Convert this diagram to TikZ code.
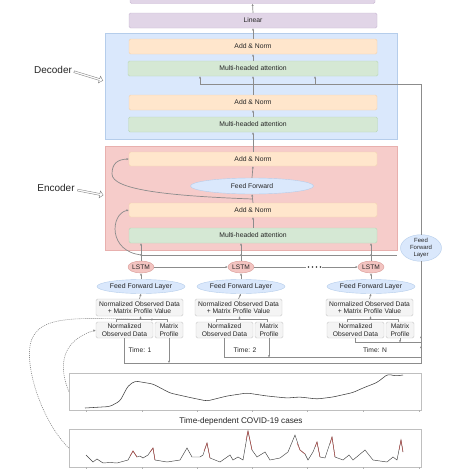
\documentclass[tikz,border=0pt]{standalone}
\usepackage{fontspec}
\setmainfont{Liberation Sans}
\usetikzlibrary{shapes.geometric,shapes.arrows,arrows.meta}
\definecolor{purfill}{HTML}{E1D5E7}
\definecolor{purdraw}{HTML}{C9B8D3}
\definecolor{orfill}{HTML}{FFE6CC}
\definecolor{ordraw}{HTML}{F2D2B0}
\definecolor{grfill}{HTML}{D5E8D4}
\definecolor{grdraw}{HTML}{B9D6B7}
\definecolor{blfill}{HTML}{DAE8FC}
\definecolor{bldraw}{HTML}{B5CDEB}
\definecolor{rdfill}{HTML}{F6CCCA}
\definecolor{rddraw}{HTML}{E8B0AE}
\definecolor{lsfill}{HTML}{F3C4C1}
\definecolor{lsdraw}{HTML}{D99A96}
\definecolor{gyfill}{HTML}{F4F4F4}
\definecolor{gydraw}{HTML}{C8C8C8}
\definecolor{linec}{HTML}{8C8C8C}
\definecolor{redc}{HTML}{C0504D}
\tikzset{
  txt/.style={font=\fontsize{6.8}{7.5}\selectfont, text=black!85},
  layer/.style={rectangle, rounded corners=1.5pt, minimum height=15pt, minimum width=248pt, inner sep=0pt, txt},
  purbox/.style={layer, fill=purfill, draw=purdraw},
  orbox/.style={layer, fill=orfill, draw=ordraw},
  grbox/.style={layer, fill=grfill, draw=grdraw},
  lstm/.style={ellipse, fill=lsfill, draw=lsdraw, minimum width=26pt, minimum height=12pt, inner sep=0pt, txt, font=\fontsize{6.6}{7}\selectfont},
  ffl/.style={ellipse, fill=blfill, draw=bldraw, minimum width=67pt, minimum height=14pt, inner sep=0pt, txt, font=\fontsize{6.9}{7.5}\selectfont},
  gybox/.style={rectangle, rounded corners=1.5pt, fill=gyfill, draw=gydraw, inner sep=0pt, align=center, txt, font=\fontsize{6.7}{7.4}\selectfont},
  conn/.style={draw=linec, line width=0.7pt, -{Latex[length=2.2pt,width=2.2pt]}},
  plain/.style={draw=linec, line width=0.7pt},
  dotl/.style={draw=linec, line width=0.6pt, dash pattern=on 1pt off 1pt},
  hollow/.style={single arrow, draw=gray, fill=white, minimum height=30pt, minimum width=7pt, single arrow head extend=2.2pt, inner sep=0.6pt},
  chartbox/.style={draw=black!25, line width=0.4pt},
  lbl/.style={font=\fontsize{10}{12}\selectfont, text=black!85}
}
\begin{document}
\begin{tikzpicture}[x=1pt,y=-1pt]
\useasboundingbox (0,0) rectangle (474,474);
\fill[white] (0,0) rectangle (474,474);
% top box (cut)
\begin{scope}
\clip (0,0) rectangle (474,474);
\node[purbox, minimum width=245pt] (top) at (252.5,-4) {};
\end{scope}
\node[purbox] (lin) at (253,20.5) {Linear};
% decoder background
\node[rectangle, fill=blfill, draw=bldraw, minimum width=292pt, minimum height=106pt, inner sep=0pt] (dec) at (251,86) {};
\node[orbox] (dan2) at (253,46.5) {Add \& Norm};
\node[grbox, minimum width=250pt] (dmh2) at (253,68.5) {Multi-headed attention};
\node[orbox] (dan1) at (253,102.5) {Add \& Norm};
\node[grbox, minimum width=249pt] (dmh1) at (253,124.5) {Multi-headed attention};
% encoder background
\node[rectangle, fill=rdfill, draw=rddraw, minimum width=292pt, minimum height=104pt, inner sep=0pt] (enc) at (251,198) {};
\node[orbox, minimum height=14pt] (ean2) at (253,159) {Add \& Norm};
\node[ellipse, fill=blfill, draw=bldraw, minimum width=123pt, minimum height=16pt, inner sep=0pt, txt] (eff) at (252,186) {Feed Forward};
\node[orbox, minimum height=14pt] (ean1) at (253,210) {Add \& Norm};
\node[grbox] (emh) at (253,235.5) {Multi-headed attention};
% labels
\node[lbl] (declbl) at (53,70) {Decoder};
\node[hollow, rotate=-17] (decarr) at (88,76) {};
\node[lbl] (enclbl) at (56,188) {Encoder};
\node[hollow, rotate=-11, minimum height=26pt] (encarr) at (90,192.5) {};
% vertical arrows in stack
\draw[conn] (lin.north) -- (top.south);
\draw[conn] (dan2.north) -- (lin.south);
\draw[conn] (dmh2.north) -- (dan2.south);
\draw[conn] (dan1.north) -- (dmh2.south);
\draw[conn] (dmh1.north) -- (dan1.south);
\draw[conn] (ean2.north) -- (dmh1.south);
\draw[conn] (eff.north) -- (ean2.south);
\draw[conn] (ean1.north) -- (eff.south);
\draw[conn] (emh.north) -- (ean1.south);
% encoder residuals
\coordinate (r1) at (252.5,199);
\draw[conn] (r1) .. controls (170,196) and (112,190) .. (112,174) .. controls (112,163) and (118,159.5) .. (ean2.west);
\coordinate (r2) at (142,255);
\draw[conn] (r2) .. controls (108,252) and (110,214) .. (ean1.west);
% LSTMs
\node[lstm] (l1) at (141,267) {LSTM};
\node[lstm] (l2) at (241,267) {LSTM};
\node[lstm] (l3) at (371,267) {LSTM};
\coordinate (dl) at (306,267);
\coordinate (dr) at (322,267);
\foreach \x in {308.5,312.5,316.5,320.5} \fill[black!80] (\x,267) circle (0.85pt);
\draw[conn] (l1.east) -- (l2.west);
\draw[plain] (l2.east) -- (dl);
\draw[conn] (dr) -- (l3.west);
\coordinate (b0) at (397,255);
\draw[plain] (r2) -- (b0);
\draw[conn] (l1.north) -- (emh.south -| l1.north);
\draw[conn] (l2.north) -- (emh.south -| l2.north);
\draw[conn] (l3.north) -- (emh.south -| l3.north);
\foreach \x in {141,241,371} \fill[linec] (\x,255) circle (0.8pt);
% feed forward layers
\node[ffl] (f1) at (141,286.5) {Feed Forward Layer};
\node[ffl] (f2) at (241,286.5) {Feed Forward Layer};
\node[ffl] (f3) at (371,286.5) {Feed Forward Layer};
\draw[conn] (f1.north) -- (l1.south);
\draw[conn] (f2.north) -- (l2.south);
\draw[conn] (f3.north) -- (l3.south);
% right feed forward
\node[ellipse, fill=blfill, draw=bldraw, minimum width=41pt, minimum height=25pt, inner sep=0pt, align=center, txt, font=\fontsize{6}{6.6}\selectfont] (fr) at (421,248) {Feed\\Forward\\Layer};
% decoder cross connections
\coordinate (c1) at (421,84);
\coordinate (c2) at (200,84);
\coordinate (c3) at (315,84);
\draw[plain] (fr.north) -- (c1) -- (c2);
\draw[conn] (c2) -- (dmh2.south -| c2);
\draw[conn] (c3) -- (dmh2.south -| c3);
% data boxes
\foreach \i/\cx/\nx/\mx in {1/139.5/124.5/169, 2/238.5/224.5/269, 3/369.5/355.5/400}{
  \node[gybox, minimum width=87pt, minimum height=17pt] (u\i) at (\cx,307.5) {Normalized Observed Data\\+ Matrix Profile Value};
  \node[gybox, minimum width=57pt, minimum height=16pt] (n\i) at (\nx,330) {Normalized\\Observed Data};
  \node[gybox, minimum width=28pt, minimum height=16pt] (m\i) at (\mx,330) {Matrix\\Profile};
  \coordinate (bl\i) at (\nx-8,319.3);
  \coordinate (br\i) at (\mx-2,319.3);
  \draw[plain] (n\i.north -| bl\i) -- (bl\i) -- (br\i) -- (m\i.north -| br\i);
  \draw[conn] (\cx+1,319.3) -- (u\i.south -| {(\cx+1,0)});
  \draw[conn] (u\i.north) -- (f\i.south);
}
\node[txt, font=\fontsize{6.7}{7}\selectfont] (t1) at (140,350) {Time: 1};
\node[txt, font=\fontsize{6.7}{7}\selectfont] (t2) at (245,350) {Time: 2};
\node[txt, font=\fontsize{6.7}{7}\selectfont] (t3) at (375,350) {Time: N};
% bottom collection lines
\coordinate (h1) at (421,363);
\coordinate (h2) at (421,357.5);
\coordinate (h3) at (421,342.5);
\draw[plain] (n1.south) -- (n1.south |- h1) -- (h1) -- (fr.south);
\draw[plain] (n2.south) -- (n2.south |- h2) -- (h2);
\draw[plain] (n3.south) -- (n3.south |- h3) -- (h3);
\draw[conn] (m1.south) -- (m1.south |- h1);
\draw[conn] (m2.south) -- (m2.south |- h2);
\draw[conn] (m3.south) -- (m3.south |- h3);
\draw[conn] (421,350) -- (421,346);
\draw[conn] (421,340) -- (421,336);
% charts
\node[chartbox, rectangle, minimum width=352pt, minimum height=37pt, inner sep=0pt] (ch1) at (245,391.5) {};
\node[chartbox, rectangle, minimum width=352pt, minimum height=38pt, inner sep=0pt] (ch2) at (245,448) {};
\foreach \x in {86,142,197,252,307,363,419}{
  \draw[black!30, line width=0.3pt] (\x,410) -- (\x,411.5);
  \draw[black!30, line width=0.3pt] (\x,467) -- (\x,468.5);
}
\node[txt, font=\fontsize{8.2}{9}\selectfont] (ttl) at (241,421.5) {Time-dependent COVID-19 cases};
\draw[black!75, line width=0.55pt, rounded corners=3pt] (85,408) -- (110,406.5) -- (120,401) -- (128,386) -- (135,381) -- (153,384) -- (170,393) -- (190,397.5) -- (207,401) -- (227,396) -- (247,393) -- (267,396) -- (287,398) -- (300,397) -- (317,399) -- (333,397) -- (353,392.5) -- (363,388) -- (377,382.5) -- (388,374) -- (395,376) -- (403,375);
\draw[black!75, line width=0.45pt] (86,455) -- (88,457) -- (93,462) -- (97,459) -- (103,463) -- (110,462.5) -- (117,463) -- (128,460) -- (133,451) -- (137,457) -- (140,456) -- (143,458) -- (148,455) -- (153,448) -- (155,460) -- (167,462) -- (180,460) -- (187,448) -- (192,457) -- (200,457) -- (203,455) -- (207,443) -- (210,458) -- (220,462) -- (230,455) -- (233,460) -- (238,457) -- (243,460) -- (248,431) -- (252,450) -- (257,457) -- (265,452) -- (270,460) -- (280,458) -- (288,452) -- (295,435) -- (300,450) -- (305,454) -- (308,460) -- (313,452) -- (317,442) -- (320,457) -- (325,458) -- (332,437) -- (335,457) -- (343,460) -- (349,455) -- (353,460) -- (365,450) -- (373,460) -- (387,462) -- (393,457) -- (397,460) -- (401,440) -- (403,452);
\draw[redc, line width=0.45pt] (130,456) -- (133,451) -- (137,457);
\draw[redc, line width=0.45pt] (150,452) -- (153,448) -- (155,460);
\draw[redc, line width=0.45pt] (204,451) -- (207,443) -- (210,458);
\draw[redc, line width=0.45pt] (246,440) -- (248,431) -- (252,450);
\draw[redc, line width=0.45pt] (297,443) -- (300,450) -- (305,454);
\draw[redc, line width=0.45pt] (315,447) -- (317,442) -- (320,457);
\draw[redc, line width=0.45pt] (330,444) -- (332,437) -- (335,457);
\draw[redc, line width=0.45pt] (399,450) -- (401,440) -- (403,452);
% dotted links
\draw[dotl, -{Latex[length=2.5pt,width=2.5pt]}] (ch2.west) .. controls (40,420) and (20,355) .. (34,335) .. controls (42,322) and (60,318) .. (100,318.5) -- (154,319.5);
\draw[dotl, -{Latex[length=2.5pt,width=2.5pt]}] (ch1.west) .. controls (60,370) and (58,342) .. (n1.west);
\end{tikzpicture}
\end{document}
